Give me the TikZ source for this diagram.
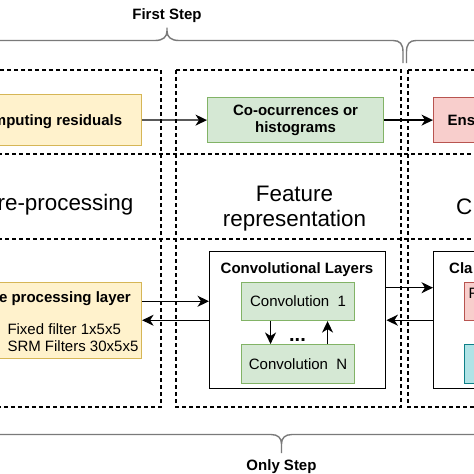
\documentclass[tikz,border=0pt]{standalone}
\usepackage{fontspec}
\setmainfont{Liberation Sans}
\usetikzlibrary{arrows.meta,calc}
\definecolor{yfill}{HTML}{FFF2CC}
\definecolor{ydraw}{HTML}{D6B656}
\definecolor{gfill}{HTML}{D5E8D4}
\definecolor{gdraw}{HTML}{82B366}
\definecolor{rfill}{HTML}{F8CECC}
\definecolor{rdraw}{HTML}{B85450}
\definecolor{cfill}{HTML}{B0E3E6}
\definecolor{cdraw}{HTML}{0E8088}
\definecolor{bracegray}{HTML}{7A7A7A}
\newcommand{\lblfont}{\fontsize{15}{16.7}\selectfont}
\newcommand{\listfont}{\fontsize{15}{17}\selectfont}
\newcommand{\bigfont}{\fontsize{22.4}{24.8}\selectfont}
\newcommand{\dotsfont}{\fontsize{20}{20}\selectfont}
\begin{document}
\begin{tikzpicture}[x=1pt,y=-1pt,
  box/.style={draw, line width=1.1pt, inner sep=0pt, rectangle, anchor=north west},
  ybox/.style={box, fill=yfill, draw=ydraw},
  gbox/.style={box, fill=gfill, draw=gdraw},
  rbox/.style={box, fill=rfill, draw=rdraw},
  cbox/.style={box, fill=cfill, draw=cdraw},
  container/.style={box, draw=black, line width=1.4pt, fill=white},
  col/.style={draw=black, line width=1.3pt, dash pattern=on 4pt off 3pt},
  arr/.style={line width=1.3pt, -{Stealth[length=11.5pt,width=11pt,inset=3.5pt]}},
  brace/.style={draw=bracegray, line width=1.4pt},
  bl/.style={font=\lblfont\bfseries, inner sep=0pt},
  rl/.style={font=\lblfont, inner sep=0pt},
  big/.style={font=\bigfont, inner sep=0pt},
]
\useasboundingbox (0,0) rectangle (474,474);
\fill[white] (0,0) rectangle (474,474);
\clip (0,0) rectangle (474,474);

% dashed columns and row separators
\draw[col] (-30,70) rectangle (161,407);
\draw[col] (176,70) rectangle (401,407);
\draw[col] (408,70) rectangle (640,407);
\draw[col] (-30,154) -- (640,154);
\draw[col] (-30,239) -- (640,239);

% braces
\draw[brace] (-20,40.5) -- (155,40.5) .. controls (163,40.5) and (167,37) .. (167,31) -- (167,27.5)
  (167,31) .. controls (167,37) and (171,40.5) .. (179,40.5) -- (393,40.5)
  .. controls (400,40.5) and (403,44) .. (403,52) -- (403,63);
\draw[brace] (406.5,63) -- (406.5,52) .. controls (406.5,44) and (409.5,40.5) .. (416,40.5) -- (500,40.5);
\draw[brace] (-20,434.5) -- (271,434.5) .. controls (278,434.5) and (281.5,438) .. (281.5,444) -- (281.5,453)
  (281.5,444) .. controls (281.5,438) and (285,434.5) .. (292,434.5) -- (500,434.5);
\node[bl, anchor=base] (first) at (167,19.5) {First Step};
\node[bl, anchor=base] (only) at (281.5,470.5) {Only Step};

% row 1
\node[ybox, minimum width=188pt, minimum height=51pt, bl, text depth=0pt] (res) at (-47,94) {Computing residuals};
\node[gbox, minimum width=176pt, minimum height=44.5pt, bl, align=center] (cooc) at (207,97.3) {Co-ocurrences or\\histograms};
\node[rbox, minimum width=180pt, minimum height=44.5pt] (ens) at (433,97.3) {};
\node[bl, anchor=base west] (enst) at (447.5,125) {Ens};
\draw[arr] (res.east) -- (cooc.west);
\draw[arr] (cooc.east) -- (ens.west);

% row 2
\node[big, anchor=base east] (pre) at (133.5,210) {re-processing};
\node[big, align=center] (feat) at (294.5,208.5) {Feature\\representation};
\node[big, anchor=base west] (clsr) at (456,214) {C};

% row 3
\node[ybox, minimum width=188pt, minimum height=76pt] (ipl) at (-47,281.7) {};
\node[bl, anchor=base east] (iplt) at (131,302.5) {e processing layer};
\node[font=\listfont, inner sep=0pt, align=left, anchor=north west] (iplf) at (7.3,323.2) {Fixed filter 1x5x5\\SRM Filters 30x5x5};

\node[container, minimum width=176pt, minimum height=137pt] (convL) at (209,251) {};
\node[bl, anchor=base] (convt) at (297,273.5) {Convolutional Layers};
\node[gbox, minimum width=113pt, minimum height=38pt, rl] (conv1) at (241,282) {Convolution~~1};
\node[gbox, minimum width=113pt, minimum height=39pt, rl] (convN) at (241,344) {Convolution~~N};
\node[font=\dotsfont\bfseries, inner sep=0pt, anchor=base] (dots) at (297.5,341) {...};
\draw[arr] ([xshift=-27.5pt]conv1.south) -- ([xshift=-27.5pt]convN.north);
\draw[arr] ([xshift=29.5pt]convN.north) -- ([xshift=29.5pt]conv1.south);

\node[container, minimum width=180pt, minimum height=137pt] (cls) at (433,251) {};
\node[bl, anchor=base west] (clst) at (449,273.5) {Cla};
\node[rbox, minimum width=113pt, minimum height=38pt] (fc) at (464,282) {};
\node[rl, anchor=base west] (fct) at (468.3,298) {F};
\node[cbox, minimum width=113pt, minimum height=39pt] (cy) at (464,344) {};

\draw[arr] ([yshift=19pt]ipl.east) -- ([yshift=19pt]ipl.east -| convL.west);
\draw[arr] (convL.west |- ipl.east) -- (ipl.east);
\draw[arr] ([yshift=32.5pt]convL.east) -- ([yshift=32.5pt]convL.east -| cls.west);
\draw[arr] (cls.west) -- (convL.east);
\end{tikzpicture}
\end{document}
